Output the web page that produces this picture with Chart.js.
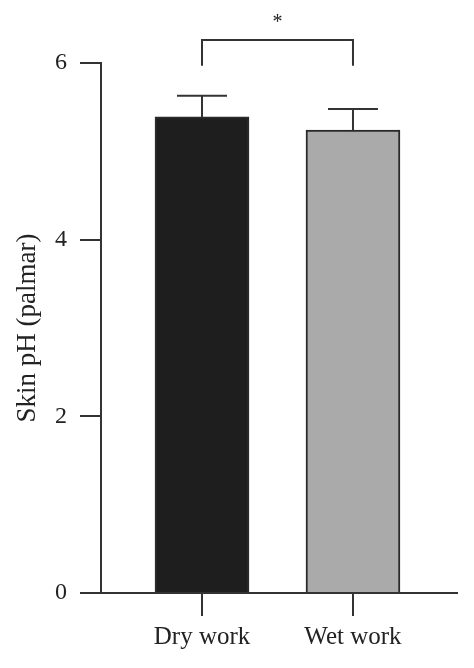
<!DOCTYPE html>
<html>
<head>
<meta charset="utf-8">
<script src="https://cdn.jsdelivr.net/npm/chart.js@4"></script>
<style>
  html, body { margin: 0; padding: 0; background: #fff; }
  #wrap { width: 474px; height: 668px; }
</style>
</head>
<body>
<div id="wrap"><canvas id="chart"></canvas></div>
<script>
// values
var categories = ['Dry work', 'Wet work'];
var positions = [0, 1];
var means = [5.39, 5.24];
var errors = [0.24, 0.24];
var fills = ['#1e1e1e', '#aaaaaa'];
var yTicks = [0, 2, 4, 6];
var sigPair = [0, 1];
var sigLevel = 6.26;
var sigDrop = 5.97;
var sigMark = '*';

var lineColor = '#333333';
var serif = "'Liberation Serif', 'DejaVu Serif', serif";

// error bars and significance bracket
var extras = {
    id: 'extras',
    afterDatasetsDraw: function (chart) {
        var ctx = chart.ctx;
        var xs = chart.scales.x;
        var ys = chart.scales.y;
        ctx.save();
        ctx.strokeStyle = lineColor;
        ctx.lineWidth = 2;
        for (var i = 0; i < means.length; i++) {
            var px = xs.getPixelForValue(positions[i]);
            var yBar = ys.getPixelForValue(means[i]);
            var yTop = ys.getPixelForValue(means[i] + errors[i]);
            ctx.beginPath();
            ctx.moveTo(px, yBar);
            ctx.lineTo(px, yTop);
            ctx.moveTo(px - 25, yTop);
            ctx.lineTo(px + 25, yTop);
            ctx.stroke();
        }
        var x1 = xs.getPixelForValue(positions[sigPair[0]]);
        var x2 = xs.getPixelForValue(positions[sigPair[1]]);
        var yb = ys.getPixelForValue(sigLevel);
        var yd = ys.getPixelForValue(sigDrop);
        ctx.beginPath();
        ctx.moveTo(x1, yd);
        ctx.lineTo(x1, yb);
        ctx.lineTo(x2, yb);
        ctx.lineTo(x2, yd);
        ctx.stroke();
        ctx.fillStyle = '#222';
        ctx.font = '20px ' + serif;
        ctx.textAlign = 'center';
        ctx.textBaseline = 'middle';
        ctx.fillText(sigMark, (x1 + x2) / 2, yb - 17);
        ctx.restore();
    }
};

var ctx = document.getElementById('chart').getContext('2d');
var myChart = new Chart(ctx, {
    type: 'bar',
    data: {
        datasets: [{
            data: positions.map(function (p, i) { return { x: p, y: means[i] }; }),
            backgroundColor: fills,
            borderColor: '#2a2a2a',
            borderWidth: 2,
            barThickness: 94
        }]
    },
    options: {
        responsive: true,
        maintainAspectRatio: false,
        animation: false,
        layout: { padding: { top: 63, right: 17, left: 0, bottom: 0 } },
        plugins: {
            legend: { display: false },
            tooltip: { enabled: false }
        },
        scales: {
            x: {
                type: 'linear',
                offset: false,
                min: -0.669,
                max: 1.689,
                afterBuildTicks: function (scale) {
                    scale.ticks = positions.map(function (p) { return { value: p }; });
                },
                afterFit: function (scale) { scale.height = 75; },
                ticks: {
                    callback: function (v) { return categories[positions.indexOf(v)]; },
                    color: '#222',
                    font: { family: serif, size: 25 },
                    padding: 6,
                    maxRotation: 0
                },
                grid: { offset: false, drawOnChartArea: false, tickLength: 23, color: lineColor, lineWidth: 2 },
                border: { color: lineColor, width: 2 }
            },
            y: {
                min: 0,
                max: 6,
                afterBuildTicks: function (scale) {
                    scale.ticks = yTicks.map(function (v) { return { value: v }; });
                },
                afterFit: function (scale) { scale.width = 101; },
                ticks: {
                    color: '#222',
                    font: { family: serif, size: 24 },
                    padding: 13
                },
                grid: { drawOnChartArea: false, tickLength: 21, color: lineColor, lineWidth: 2 },
                border: { color: lineColor, width: 2 },
                title: {
                    display: true,
                    text: 'Skin pH (palmar)',
                    color: '#222',
                    font: { family: serif, size: 27 },
                    padding: { top: 12, bottom: 0 }
                }
            }
        }
    },
    plugins: [extras]
});
</script>
</body>
</html>
